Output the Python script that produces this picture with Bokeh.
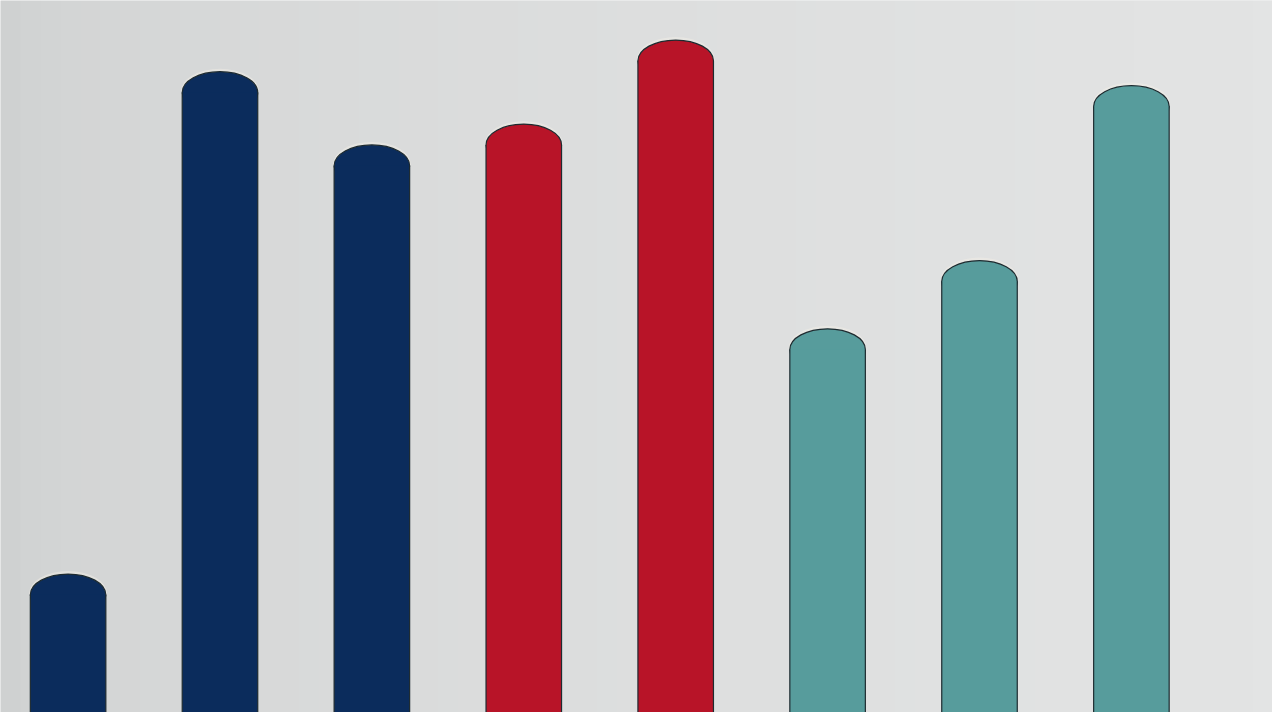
import numpy as np
from bokeh.plotting import figure
from bokeh.models import Range1d, ColumnDataSource
from bokeh.embed import file_html
from bokeh.resources import INLINE

categories = ["A1", "A2", "A3", "B1", "B2", "C1", "C2", "C3"]
values = [140, 648, 574, 595, 680, 388, 457, 634]
colors = ["#0b2c5c", "#0b2c5c", "#0b2c5c", "#b81428", "#b81428",
          "#579c9c", "#579c9c", "#579c9c"]

W, H = 1272, 712          # figure size in the page
RW, RH = 1280, 720        # virtual canvas the ranges span
unit = 152.86
x0 = -68 / unit
bar_w = 76 / unit
cap_h = 42

xs = np.arange(len(categories), dtype=float)
vals = np.array(values, dtype=float)
src = ColumnDataSource(dict(
    x=xs, top=vals - cap_h / 2, cy=vals - cap_h / 2,
    left=xs - bar_w / 2, right=xs + bar_w / 2, color=colors,
    hy=vals - cap_h / 2 + 1.5,
))

p = figure(width=W, height=H, output_backend="svg", toolbar_location=None,
           x_range=Range1d(x0, x0 + RW / unit), y_range=Range1d(0, RH),
           min_border=0, outline_line_color=None)
p.axis.visible = False
p.grid.visible = False
p.background_fill_color = "#dedfdf"
p.border_fill_color = "#dedfdf"

# soft background gradient (lighter to the right)
grad_n = 64
t = np.linspace(0, 1, grad_n)
img = np.empty((1, grad_n), dtype=np.uint32)
view = img.view(dtype=np.uint8).reshape((1, grad_n, 4))
view[0, :, 0] = (207 + (227 - 207) * np.sqrt(t)).astype(np.uint8)
view[0, :, 1] = (209 + (228 - 209) * np.sqrt(t)).astype(np.uint8)
view[0, :, 2] = (209 + (228 - 209) * np.sqrt(t)).astype(np.uint8)
view[0, :, 3] = 255
p.image_rgba(image=[img], x=x0, y=0, dw=RW / unit, dh=RH)

# light halo above caps
p.ellipse(x="x", y="hy", width=bar_w * 1.03, height=cap_h + 3, source=src,
          fill_color="#f3f0e6", fill_alpha=0.45, line_color=None)
# caps
p.ellipse(x="x", y="cy", width=bar_w, height=cap_h, source=src,
          fill_color="color", line_color="#1e2b30", line_width=1.2)
# bar bodies
p.vbar(x="x", width=bar_w, bottom=0, top="top", source=src,
       fill_color="color", line_color=None)
# side outlines
p.segment(x0="left", y0=0, x1="left", y1="top", source=src,
          line_color="#1e2b30", line_width=1.2)
p.segment(x0="right", y0=0, x1="right", y1="top", source=src,
          line_color="#1e2b30", line_width=1.2)

open("out.html", "w").write(file_html(p, INLINE))
